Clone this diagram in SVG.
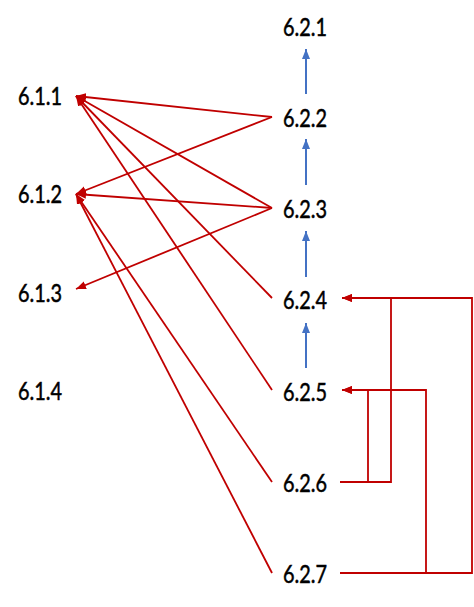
<svg xmlns="http://www.w3.org/2000/svg" width="474" height="607" viewBox="0 0 474 607">
<style>
  .lbl { font-family: Lato, "Open Sans", "Liberation Sans", sans-serif; font-size: 25px; fill: #000; stroke: #000; stroke-width: 0.5; }
  .red { fill: none; stroke: #C00000; stroke-width: 1.8; }
  .blue { fill: none; stroke: #4472C4; stroke-width: 2; }
</style>
<defs>
  <marker id="ar" markerUnits="userSpaceOnUse" markerWidth="11" markerHeight="9" refX="10" refY="4" orient="auto">
    <path d="M0,0 L10,4 L0,8 z" fill="#C00000"/>
  </marker>
  <marker id="ab" markerUnits="userSpaceOnUse" markerWidth="11" markerHeight="9" refX="10" refY="4" orient="auto">
    <path d="M0,0 L10,4 L0,8 z" fill="#4472C4"/>
  </marker>
</defs>
<rect width="474" height="607" fill="#fff"/>
<g id="n611"><text class="lbl" x="18" y="105" textLength="44" lengthAdjust="spacingAndGlyphs">6.1.1</text></g>
<g id="n612"><text class="lbl" x="18" y="203" textLength="44" lengthAdjust="spacingAndGlyphs">6.1.2</text></g>
<g id="n613"><text class="lbl" x="18" y="302" textLength="44" lengthAdjust="spacingAndGlyphs">6.1.3</text></g>
<g id="n614"><text class="lbl" x="18" y="400" textLength="44" lengthAdjust="spacingAndGlyphs">6.1.4</text></g>
<g id="n621"><text class="lbl" x="283" y="36" textLength="44" lengthAdjust="spacingAndGlyphs">6.2.1</text></g>
<g id="n622"><text class="lbl" x="283" y="127" textLength="44" lengthAdjust="spacingAndGlyphs">6.2.2</text></g>
<g id="n623"><text class="lbl" x="283" y="218" textLength="44" lengthAdjust="spacingAndGlyphs">6.2.3</text></g>
<g id="n624"><text class="lbl" x="283" y="309" textLength="44" lengthAdjust="spacingAndGlyphs">6.2.4</text></g>
<g id="n625"><text class="lbl" x="283" y="401" textLength="44" lengthAdjust="spacingAndGlyphs">6.2.5</text></g>
<g id="n626"><text class="lbl" x="283" y="492" textLength="44" lengthAdjust="spacingAndGlyphs">6.2.6</text></g>
<g id="n627"><text class="lbl" x="283" y="583" textLength="44" lengthAdjust="spacingAndGlyphs">6.2.7</text></g>
<g id="connectors">
  <line class="blue" x1="306" y1="94" x2="306" y2="49" marker-end="url(#ab)"/>
  <line class="blue" x1="306" y1="185" x2="306" y2="139" marker-end="url(#ab)"/>
  <line class="blue" x1="306" y1="277" x2="306" y2="231" marker-end="url(#ab)"/>
  <line class="blue" x1="306" y1="368" x2="306" y2="323" marker-end="url(#ab)"/>

  <line class="red" x1="272" y1="117" x2="76" y2="96" marker-end="url(#ar)"/>
  <line class="red" x1="272" y1="117" x2="76" y2="194" marker-end="url(#ar)"/>
  <line class="red" x1="272" y1="208" x2="76" y2="96" marker-end="url(#ar)"/>
  <line class="red" x1="272" y1="208" x2="76" y2="194" marker-end="url(#ar)"/>
  <line class="red" x1="272" y1="208" x2="76" y2="289" marker-end="url(#ar)"/>
  <line class="red" x1="272" y1="298" x2="76" y2="96" marker-end="url(#ar)"/>
  <line class="red" x1="272" y1="390" x2="76" y2="96" marker-end="url(#ar)"/>
  <line class="red" x1="272" y1="482" x2="76" y2="194" marker-end="url(#ar)"/>
  <line class="red" x1="272" y1="573" x2="76" y2="194" marker-end="url(#ar)"/>

  <polyline class="red" points="340,482 391,482 391,298 342,298" marker-end="url(#ar)"/>
  <polyline class="red" points="368,482 368,390 342,390" marker-end="url(#ar)"/>
  <polyline class="red" points="340,573 472,573 472,298 342,298" marker-end="url(#ar)"/>
  <polyline class="red" points="426,573 426,390 342,390" marker-end="url(#ar)"/>
</g>
</svg>
